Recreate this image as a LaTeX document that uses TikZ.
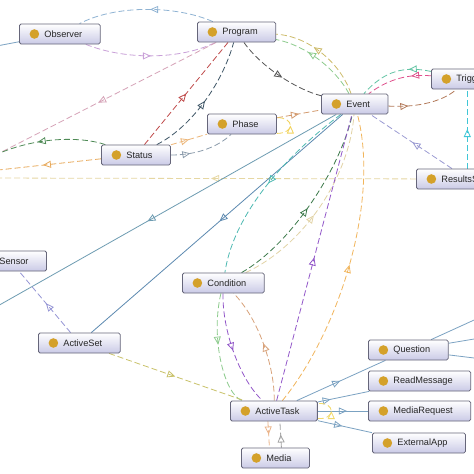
\documentclass[tikz,border=0pt]{standalone}
\usepackage{fontspec}
\setmainfont{Liberation Sans}
\usetikzlibrary{arrows.meta,decorations.markings}

\definecolor{boxline}{HTML}{66667A}
\definecolor{boxfill}{HTML}{CACAE6}
\definecolor{dotgold}{HTML}{D4A12A}
\definecolor{lnSky}{HTML}{8FB3D3}
\definecolor{lnOrchid}{HTML}{C9A0D8}
\definecolor{lnMauve}{HTML}{D6A3B8}
\definecolor{lnBrick}{HTML}{C04A4A}
\definecolor{lnSlate}{HTML}{3E5566}
\definecolor{lnFern}{HTML}{4E8A55}
\definecolor{lnApricot}{HTML}{E8AA5C}
\definecolor{lnStraw}{HTML}{E6D7A2}
\definecolor{lnPeach}{HTML}{EDB77A}
\definecolor{lnSteel}{HTML}{8C9CAC}
\definecolor{lnClay}{HTML}{D39A6E}
\definecolor{lnSun}{HTML}{F2D35C}
\definecolor{lnGraphite}{HTML}{555555}
\definecolor{lnOlive}{HTML}{CDBB6A}
\definecolor{lnMint}{HTML}{8CCB8C}
\definecolor{lnSeafoam}{HTML}{62C4A4}
\definecolor{lnRose}{HTML}{E0508C}
\definecolor{lnUmber}{HTML}{B37A5A}
\definecolor{lnPeri}{HTML}{9A9AD2}
\definecolor{lnAqua}{HTML}{3FC6D6}
\definecolor{lnHarbor}{HTML}{6E9CB2}
\definecolor{lnDenim}{HTML}{5C89B0}
\definecolor{lnTeal}{HTML}{4DB9B2}
\definecolor{lnPine}{HTML}{3D7A4B}
\definecolor{lnSand}{HTML}{E2D3A5}
\definecolor{lnViolet}{HTML}{9257C9}
\definecolor{lnMarigold}{HTML}{F1B55B}
\definecolor{lnTan}{HTML}{D8A27A}
\definecolor{lnKhaki}{HTML}{C9C26A}
\definecolor{lnLilac}{HTML}{9595D5}
\definecolor{lnMist}{HTML}{7BA2C2}
\definecolor{lnButter}{HTML}{F2DA6C}
\definecolor{lnSalmon}{HTML}{EBB48A}
\definecolor{lnAsh}{HTML}{A3A3A3}

\pgfdeclarelayer{back}
\pgfsetlayers{back,main}

\begin{document}
\begin{tikzpicture}[x=1pt,y=-1pt]
	\tikzstyle{every node}=[font=\fontsize{9.2}{10}\selectfont, text=black!85]
	\tikzstyle{cls}=[anchor=west, draw=boxline, line width=0.8pt, rounded corners=1.6pt, top color=white, bottom color=boxfill, minimum height=20pt, inner xsep=0pt, inner ysep=0pt, execute at begin node={\hspace*{25pt}}, execute at end node={\hspace*{18pt}}, path picture={\fill[dotgold] ([xshift=15pt]path picture bounding box.west) circle (4.8pt);}]
	\tikzstyle{rel}=[line width=0.8pt, dash pattern=on 6pt off 3pt]
	\tikzstyle{link}=[line width=0.8pt]
	\tikzset{midtip/.style={postaction={decorate,decoration={markings,mark=at position #1 with {\arrow{Triangle[open,length=8pt,width=7pt]}}}}}}

	\useasboundingbox (0,0) rectangle (474,474);

	%% classes
	\node[cls] (obs) at (19,34) {Observer};
	\node[cls] (prog) at (197,32) {Program};
	\node[cls] (event) at (321,104) {Event};
	\node[cls] (trig) at (431,79) {Trigger};
	\node[cls] (phase) at (207,124) {Phase};
	\node[cls] (status) at (101,155) {Status};
	\node[cls] (res) at (416,179) {ResultsSet};
	\node[cls] (sensor) at (-26,261) {Sensor};
	\node[cls] (cond) at (182,283) {Condition};
	\node[cls] (aset) at (38,343) {ActiveSet};
	\node[cls] (quest) at (368,350) {Question};
	\node[cls] (read) at (368,381) {ReadMessage};
	\node[cls] (mreq) at (368,411) {MediaRequest};
	\node[cls] (ext) at (372,443) {ExternalApp};
	\node[cls] (atask) at (230,411) {ActiveTask};
	\node[cls] (media) at (241,458) {Media};

	%% ends outside the frame
	\coordinate (wA) at (-20,163);
	\coordinate (wB) at (-15,160);
	\coordinate (wC) at (-20,172);
	\coordinate (wD) at (-20,178);
	\coordinate (wE) at (-20,316);
	\coordinate (wF) at (-40,53);
	\coordinate (eA) at (540,290);
	\coordinate (eB) at (540,328);
	\coordinate (eC) at (540,366);

	\begin{pgfonlayer}{back}
	\fill[white] (0,0) rectangle (474,474);
	%% top part
	\draw[rel,lnSky,midtip=0.47] (prog) .. controls (175,5) and (115,5) .. (obs);
	\draw[rel,lnOrchid,midtip=0.5] (obs) .. controls (125,60) and (180,60) .. (prog);
	\draw[link,lnMist] (obs) -- (wF);
	\draw[rel,lnMauve,midtip=0.5] (prog) -- (wA);
	\draw[rel,lnBrick,midtip=0.5] (status) -- (prog);
	\draw[rel,lnSlate,midtip=0.5] (status) .. controls (190,128) and (222,85) .. (prog);
	\draw[rel,lnFern,midtip=0.55] (status) .. controls (80,136) and (30,136) .. (wB);
	\draw[rel,lnApricot,midtip=0.48] (status) -- (wC);
	\draw[rel,lnStraw,midtip=0.47] (res) -- (wD);
	\draw[rel,lnPeach,midtip=0.5] (status) -- (phase);
	\draw[rel,lnSteel,midtip=0.3] (status) .. controls (200,155) and (220,145) .. (phase);
	\draw[rel,lnClay,midtip=0.5] (phase) -- (event);
	\draw[rel,lnSun,midtip=0.5] ([yshift=1pt]phase.south east) .. controls +(18,0) and +(18,0) .. ([yshift=-4pt]phase.north east);
	\draw[rel,lnGraphite,midtip=0.55] (prog) .. controls (262,68) and (298,90) .. (event);
	\draw[rel,lnOlive,midtip=0.6] (event) .. controls (340,62) and (308,36) .. (prog);
	\draw[rel,lnMint,midtip=0.63] (event) .. controls (335,68) and (305,45) .. (prog);
	\draw[rel,lnSeafoam,midtip=0.3] (trig) .. controls (405,66) and (385,70) .. (event);
	\draw[rel,lnRose,midtip=0.3] (trig) .. controls (410,74) and (390,78) .. (event);
	\draw[rel,lnUmber,midtip=0.28] (event) .. controls (420,108) and (445,100) .. (trig);
	\draw[rel,lnPeri,midtip=0.485] ([xshift=36pt]res.north west) -- (event);
	\draw[rel,lnAqua,midtip=0.5] (res.north -| trig.south) -- (trig.south);

	%% middle part
	\draw[link,lnHarbor,midtip=0.53] (event) -- (wE);
	\draw[link,lnDenim,midtip=0.49] (event) -- (aset);
	\draw[rel,lnTeal,midtip=0.5] (event) .. controls (300,145) and (235,205) .. (cond);
	\draw[rel,lnPine,midtip=0.47] (cond) .. controls (290,245) and (340,170) .. (event);
	\draw[rel,lnSand,midtip=0.45] (cond) .. controls (305,245) and (350,175) .. (event);
	\draw[rel,lnViolet,midtip=0.5] (atask) -- (event);
	\draw[rel,lnMarigold,midtip=0.5] (atask) .. controls (340,330) and (380,200) .. (event);
	\draw[rel,lnViolet,midtip=0.5] (cond) .. controls (222,330) and (240,380) .. (atask);
	\draw[rel,lnMint,midtip=0.45] (cond) .. controls (210,340) and (225,395) .. (atask);
	\draw[rel,lnTan,midtip=0.5] (atask) .. controls (275,370) and (260,320) .. (cond);
	\draw[rel,lnKhaki,midtip=0.49] (aset) -- (atask);
	\draw[rel,lnLilac,midtip=0.48] (aset) -- (sensor);

	%% bottom part
	\draw[link,lnMist,midtip=0.49] (atask) -- (quest);
	\draw[link,lnMist,midtip=0.25] (atask) -- (read);
	\draw[link,lnMist,midtip=0.58] (atask) -- (mreq);
	\draw[link,lnMist,midtip=0.45] (atask) -- (ext);
	\draw[rel,lnButter,midtip=0.5] ([yshift=3pt]atask.south east) .. controls +(18,2) and +(18,-2) .. ([yshift=-3pt]atask.north east);
	\draw[rel,lnSalmon,midtip=0.5] ([xshift=-6pt]atask.south) -- ([xshift=-6pt]media.north);
	\draw[rel,lnAsh,midtip=0.5] ([xshift=6pt]media.north) -- ([xshift=6pt]atask.south);
	\draw[link,lnMist] (quest) -- (eA);
	\draw[link,lnMist] (quest) -- (eB);
	\draw[link,lnMist] (quest) -- (eC);
	\end{pgfonlayer}

\end{tikzpicture}
\end{document}
